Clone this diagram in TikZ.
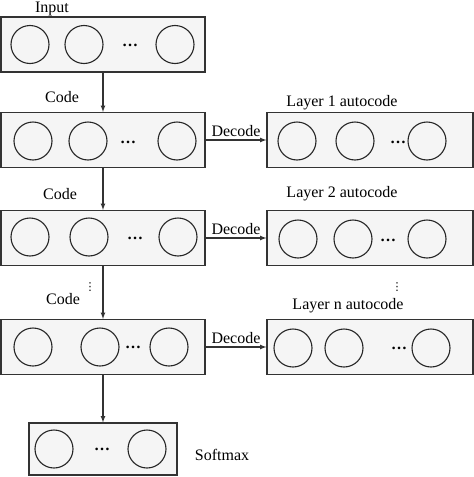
\documentclass[tikz,border=0pt]{standalone}
\usepackage{fontspec}
\setmainfont{Liberation Serif}
\newfontfamily\symfont{DejaVu Sans}
\usepackage{tikz}
\usetikzlibrary{arrows}

\tikzset{
layer/.style={draw=black!80, fill=black!4, line width=1.2pt, minimum height=55pt, inner sep=0pt},
unit/.style={circle, draw=black!85, line width=1.1pt, minimum size=38pt, inner sep=0pt},
link/.style={->, >=latex, line width=1.2pt, draw=black!80},
gap/.style={inner sep=0pt, font=\fontsize{16}{19}\selectfont\bfseries},
vgap/.style={inner sep=0pt, font=\fontsize{11}{11}\selectfont\symfont},
}

\begin{document}
\begin{tikzpicture}[x=1pt, y=-1pt, font=\fontsize{16}{19}\selectfont]
\useasboundingbox (0,0) rectangle (474,477);

% coding layers
\node[layer, minimum width=204pt] (L1) at (103,44.5) {};
\node[layer, minimum width=204pt] (L2) at (103,140) {};
\node[layer, minimum width=204pt] (L3) at (103,238) {};
\node[layer, minimum width=204pt] (L4) at (103,347) {};
\node[layer, minimum width=148pt, minimum height=52pt] (S) at (103,449) {};

% autocode layers
\node[layer, minimum width=206pt] (R1) at (370,140) {};
\node[layer, minimum width=206pt] (R2) at (370,238) {};
\node[layer, minimum width=206pt] (R3) at (370,347) {};

% units
\foreach \x [count=\i] in {30,84,175} \node[unit] (L1-\i) at (\x,44.5) {};
\node[gap] (L1-d) at (130,45) {\dots};
\foreach \x [count=\i] in {33,88,177} \node[unit] (L2-\i) at (\x,141) {};
\node[gap] (L2-d) at (128,142) {\dots};
\foreach \x [count=\i] in {30,89,178} \node[unit] (L3-\i) at (\x,237) {};
\node[gap] (L3-d) at (135,238) {\dots};
\foreach \x [count=\i] in {33,100,169} \node[unit] (L4-\i) at (\x,347) {};
\node[gap] (L4-d) at (133,347) {\dots};
\foreach \x [count=\i] in {54,147} \node[unit] (S-\i) at (\x,449) {};
\node[gap] (S-d) at (102,449) {\dots};
\foreach \x [count=\i] in {297,355,427} \node[unit] (R1-\i) at (\x,141) {};
\node[gap] (R1-d) at (398,142) {\dots};
\foreach \x [count=\i] in {298,353,427} \node[unit] (R2-\i) at (\x,239) {};
\node[gap] (R2-d) at (388,240) {\dots};
\foreach \x [count=\i] in {293,344,431} \node[unit] (R3-\i) at (\x,348) {};
\node[gap] (R3-d) at (399,348) {\dots};

% labels
\node[inner sep=1pt] (in) at (52,9) {Input};
\node (c1) at (62,97) {Code};
\node (c2) at (60,194) {Code};
\node (c3) at (63,299) {Code};
\node (t1) at (342,103) {Layer 1 autocode};
\node (t2) at (342,194) {Layer 2 autocode};
\node (t3) at (348,306) {Layer n autocode};
\node (sm) at (222,455) {Softmax};
\node[vgap] (v1) at (90,287) {⋮};
\node[vgap] (v2) at (397,287) {⋮};

% connections
\draw[link] (L1) -- (L2);
\draw[link] (L2) -- (L3);
\draw[link] (L3) -- (L4);
\draw[link] (L4) -- (S);
\draw[link] (L2) -- node[above, pos=0.5, yshift=-1pt] {Decode} (R1);
\draw[link] (L3) -- node[above, pos=0.5, yshift=-1pt] {Decode} (R2);
\draw[link] (L4) -- node[above, pos=0.5, yshift=-1pt] {Decode} (R3);
\end{tikzpicture}
\end{document}
